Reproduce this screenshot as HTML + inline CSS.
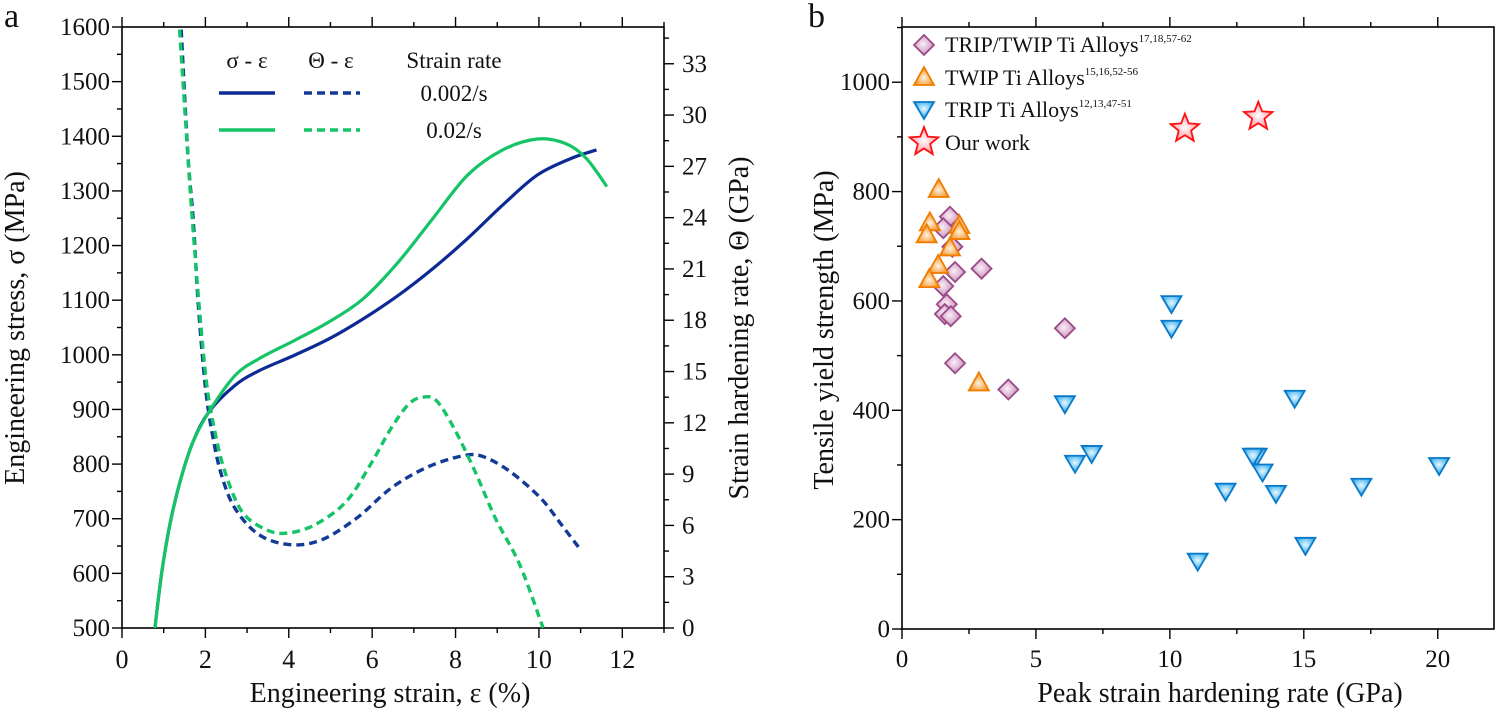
<!DOCTYPE html>
<html><head><meta charset="utf-8">
<style>
html,body{margin:0;padding:0;background:#fff;}
svg, svg text{font-family:"Liberation Serif","Times New Roman","DejaVu Serif",serif;}
</style></head>
<body>
<svg id="fig" width="1497" height="715" viewBox="0 0 1497 715" xmlns="http://www.w3.org/2000/svg" font-family="Liberation Serif, serif">
<defs>
<radialGradient id="gDia" cx="45%" cy="45%" r="60%"><stop offset="0" stop-color="#fbeef8"/><stop offset="1" stop-color="#c58ab8"/></radialGradient>
<radialGradient id="gTri" cx="50%" cy="60%" r="60%"><stop offset="0" stop-color="#fff1df"/><stop offset="1" stop-color="#f58a10"/></radialGradient>
<radialGradient id="gInv" cx="50%" cy="40%" r="60%"><stop offset="0" stop-color="#e6f7ff"/><stop offset="1" stop-color="#15a2ea"/></radialGradient>
<radialGradient id="gStar" cx="50%" cy="50%" r="55%"><stop offset="0" stop-color="#ffffff"/><stop offset="1" stop-color="#ff8a9a"/></radialGradient>
</defs>
</svg>
<script>
// ---------- Panel a data ----------
const blueStrain = [0.79,0.95,1.15,1.4,1.7,2.08,2.71,3.29,4.13,4.96,5.79,6.63,7.46,8.29,9.13,9.96,10.79,11.38];
const blueStress = [500,600,690,770,840,895,944,971,999,1029,1066,1109,1158,1213,1274,1329,1360,1375];
const greenStrain = [0.79,0.95,1.15,1.4,1.7,2.08,2.71,3.29,4.13,4.96,5.79,6.63,7.46,8.29,9.13,9.96,10.63,11.13,11.63];
const greenStress = [500,600,690,770,840,895,962,993,1026,1060,1103,1170,1250,1329,1375,1395,1387,1360,1308];
const blueThetaStrain = [1.42,1.58,1.71,1.83,2.0,2.17,2.38,2.71,3.29,4.04,4.79,5.63,6.46,7.29,8.13,8.63,9.29,10.04,10.54,10.96];
const blueTheta = [35.0,27.7,23.8,18.9,14.1,11.3,9.0,7.0,5.45,4.87,5.16,6.43,8.19,9.37,10.05,10.05,9.18,7.6,6.04,4.7];
const greenThetaStrain = [1.38,1.63,1.75,1.88,2.04,2.21,2.46,2.88,3.46,3.96,4.63,5.38,5.96,6.46,6.88,7.21,7.54,7.96,8.46,8.96,9.54,10.1];
const greenTheta = [35.0,25.8,21.9,18.0,14.1,11.7,9.2,6.8,5.75,5.55,6.04,7.4,9.56,11.7,13.1,13.5,13.3,11.7,9.2,6.4,3.7,0];
const aXTicks = [0,2,4,6,8,10,12];
const aYTicks = [500,600,700,800,900,1000,1100,1200,1300,1400,1500,1600];
const aY2Ticks = [0,3,6,9,12,15,18,21,24,27,30,33];

// ---------- Panel b data ----------
const tripTwipX = [1.79,1.54,1.88,1.98,2.97,1.54,1.67,1.6,1.82,1.98,3.97,6.08];
const tripTwipY = [754,733,699,653,659,627,594,576,572,486,438,550];
const twipX = [1.37,1.04,0.92,2.14,2.14,1.79,1.35,1.02,2.87];
const twipY = [803,742,720,737,726,696,664,638,449];
const tripX = [10.06,10.06,6.08,14.66,6.46,7.08,13.24,13.1,13.46,12.08,13.96,17.15,20.05,15.06,11.04];
const tripY = [596,551,413,423,304,322,317,317,288,253,249,262,300,154,125];
const oursX = [10.56,13.3];
const oursY = [915,937];
const bXTicks = [0,5,10,15,20];
const bYTicks = [0,200,400,600,800,1000];

const NS = "http://www.w3.org/2000/svg";
const FONT = '"Liberation Serif","Times New Roman","DejaVu Serif",serif';
const svg = document.getElementById('fig');
function mk(tag, attrs, parent){
  const e = document.createElementNS(NS, tag);
  for (const k in attrs) e.setAttribute(k, attrs[k]);
  (parent||svg).appendChild(e);
  return e;
}
function txt(s, attrs, parent){ attrs['style']='font-family:'+FONT; const t = mk('text', attrs, parent); t.textContent = s; return t; }

// ---------- Panel a axes ----------
const aL=122, aR=664, aT=27, aB=628;
const ax = v => aL + (v-0)/(13-0)*(aR-aL);
const ay = v => aB - (v-500)/(1600-500)*(aB-aT);
const ay2 = v => aB - (v-0)/(35.15-0)*(aB-aT);

const gA = mk('g', {});


const frameA = mk('rect', {x:aL,y:aT,width:aR-aL,height:aB-aT,fill:'none',stroke:'#000','stroke-width':1.6}, gA);



for (let v=0; v<=13; v+=1){
  const major = v%2===0, len = major?10:5;
  const t1 = mk('line',{x1:ax(v),x2:ax(v),y1:aB,y2:aB+len,stroke:'#000','stroke-width':1.4},gA);
  
  
  const t2 = mk('line',{x1:ax(v),x2:ax(v),y1:aT,y2:aT-len,stroke:'#000','stroke-width':1.4},gA);
  
  
}
aXTicks.forEach(v=>{
  const l = txt(String(v),{x:ax(v),y:aB+40,'font-size':26,'text-anchor':'middle',fill:'#111'},gA);
  
  
});
for (let v=500; v<=1600; v+=50){
  const major = v%100===0, len = major?10:5;
  const t = mk('line',{x1:aL,x2:aL-len,y1:ay(v),y2:ay(v),stroke:'#000','stroke-width':1.4},gA);
  
  
}
aYTicks.forEach(v=>{
  const l = txt(String(v),{x:aL-12,y:ay(v)+8,'font-size':25,'text-anchor':'end',fill:'#111'},gA);
  
  
});
for (let v=0; v<=34.5; v+=1.5){
  const major = Math.abs(v%3)<0.01, len = major?10:5;
  const t = mk('line',{x1:aR,x2:aR+len,y1:ay2(v),y2:ay2(v),stroke:'#000','stroke-width':1.4},gA);
  
  
}
aY2Ticks.forEach(v=>{
  const l = txt(String(v),{x:aR+18,y:ay2(v)+8,'font-size':25,'text-anchor':'start',fill:'#111'},gA);
  
  
});
const xtA = txt('Engineering strain, ε (%)',{x:390,y:702,'font-size':28,'text-anchor':'middle',fill:'#111'},gA);


const ytA = txt('Engineering stress, σ (MPa)',{x:0,y:0,'font-size':28,'text-anchor':'middle',fill:'#111',transform:'translate(24,328) rotate(-90)'},gA);


const y2tA = txt('Strain hardening rate, Θ (GPa)',{x:0,y:0,'font-size':28,'text-anchor':'middle',fill:'#111',transform:'translate(748,328) rotate(-90)'},gA);


const labA = txt('a',{x:4,y:27,'font-size':34,fill:'#111'},gA);



function smooth(xs, ys, fx, fy){
  const p = xs.map((x,i)=>[fx(x), fy(ys[i])]);
  let d = `M${p[0][0]},${p[0][1]}`;
  for (let i=0;i<p.length-1;i++){
    const p0=p[i-1]||p[i], p1=p[i], p2=p[i+1], p3=p[i+2]||p2;
    const c1=[p1[0]+(p2[0]-p0[0])/6, p1[1]+(p2[1]-p0[1])/6];
    const c2=[p2[0]-(p3[0]-p1[0])/6, p2[1]-(p3[1]-p1[1])/6];
    d += ` C${c1[0]},${c1[1]} ${c2[0]},${c2[1]} ${p2[0]},${p2[1]}`;
  }
  return d;
}
const BLUE='#0d2a94', GREEN='#14c466', DBLUE='#123a96';
const clipA = mk('clipPath',{id:'clipA'}); mk('rect',{x:aL,y:aT,width:aR-aL,height:aB-aT},clipA);
const blueThetaPath = mk('path',{d:smooth(blueThetaStrain,blueTheta,ax,ay2),fill:'none',stroke:DBLUE,'stroke-width':3.4,'stroke-dasharray':'8 5','clip-path':'url(#clipA)'},gA);


const greenThetaPath = mk('path',{d:smooth(greenThetaStrain,greenTheta,ax,ay2),fill:'none',stroke:GREEN,'stroke-width':3.4,'stroke-dasharray':'8 5','clip-path':'url(#clipA)'},gA);


const bS = mk('path',{d:smooth(blueStrain,blueStress,ax,ay),fill:'none',stroke:BLUE,'stroke-width':3.2,'clip-path':'url(#clipA)'},gA);


const gS = mk('path',{d:smooth(greenStrain,greenStress,ax,ay),fill:'none',stroke:GREEN,'stroke-width':3.2,'clip-path':'url(#clipA)'},gA);



const lgA = mk('g',{},gA);


const h1 = txt('σ - ε',{x:247,y:68,'font-size':23,'text-anchor':'middle',fill:'#111'},lgA);


const h2 = txt('Θ - ε',{x:331,y:68,'font-size':23,'text-anchor':'middle',fill:'#111'},lgA);


const h3 = txt('Strain rate',{x:454,y:68,'font-size':23,'text-anchor':'middle',fill:'#111'},lgA);


const ls1 = mk('line',{x1:219,x2:275,y1:93,y2:93,stroke:BLUE,'stroke-width':3.4},lgA);


const ld1 = mk('line',{x1:304,x2:360,y1:93,y2:93,stroke:DBLUE,'stroke-width':3.4,'stroke-dasharray':'8 5'},lgA);


const lt1 = txt('0.002/s',{x:454,y:101,'font-size':23,'text-anchor':'middle',fill:'#111'},lgA);


const ls2 = mk('line',{x1:219,x2:275,y1:130,y2:130,stroke:GREEN,'stroke-width':3.4},lgA);


const ld2 = mk('line',{x1:304,x2:360,y1:130,y2:130,stroke:GREEN,'stroke-width':3.4,'stroke-dasharray':'8 5'},lgA);


const lt2 = txt('0.02/s',{x:454,y:138,'font-size':23,'text-anchor':'middle',fill:'#111'},lgA);



// ---------- Panel b ----------
const bL=902, bR=1494, bT=27, bB=629;
const bx = v => bL + v/22.1*(bR-bL);
const by = v => bB - v/1101*(bB-bT);
const gB = mk('g',{});


const frameB = mk('rect',{x:bL,y:bT,width:bR-bL,height:bB-bT,fill:'none',stroke:'#000','stroke-width':1.6},gB);


for (let v=0; v<=22; v+=2.5){
  const major = v%5===0, len = major?10:5;
  const t1 = mk('line',{x1:bx(v),x2:bx(v),y1:bB,y2:bB+len,stroke:'#000','stroke-width':1.4},gB);
  
  
  const t2 = mk('line',{x1:bx(v),x2:bx(v),y1:bT,y2:bT-len,stroke:'#000','stroke-width':1.4},gB);
  
  
}
bXTicks.forEach(v=>{
  const l = txt(String(v),{x:bx(v),y:bB+38,'font-size':25,'text-anchor':'middle',fill:'#111'},gB);
  
  
});
for (let v=0; v<=1100; v+=100){
  const major = v%200===0, len = major?10:5;
  const t = mk('line',{x1:bL,x2:bL-len,y1:by(v),y2:by(v),stroke:'#000','stroke-width':1.4},gB);
  
  
}
bYTicks.forEach(v=>{
  const l = txt(String(v),{x:bL-12,y:by(v)+8,'font-size':25,'text-anchor':'end',fill:'#111'},gB);
  
  
});
const xtB = txt('Peak strain hardening rate (GPa)',{x:1220,y:702,'font-size':28,'text-anchor':'middle',fill:'#111'},gB);


const ytB = txt('Tensile yield strength (MPa)',{x:0,y:0,'font-size':28,'text-anchor':'middle',fill:'#111',transform:'translate(833,330) rotate(-90)'},gB);


const labB = txt('b',{x:808,y:27,'font-size':34,fill:'#111'},gB);



function diamond(cx,cy,p){ return mk('path',{d:`M${cx},${cy-10} L${cx+10},${cy} L${cx},${cy+10} L${cx-10},${cy} Z`,fill:'url(#gDia)',stroke:'#9c4a87','stroke-width':1.8},p); }
function tri(cx,cy,p){ return mk('path',{d:`M${cx},${cy-11} L${cx+10},${cy+7} L${cx-10},${cy+7} Z`,fill:'url(#gTri)',stroke:'#f07c00','stroke-width':1.8},p); }
function inv(cx,cy,p){ return mk('path',{d:`M${cx-10},${cy-7} L${cx+10},${cy-7} L${cx},${cy+10} Z`,fill:'url(#gInv)',stroke:'#0a78c8','stroke-width':1.8},p); }
function star(cx,cy,p){
  let d='';
  for (let i=0;i<10;i++){ const r=i%2?6.5:15; const a=-Math.PI/2+i*Math.PI/5; d+=(i?'L':'M')+(cx+r*Math.cos(a)).toFixed(1)+','+(cy+r*Math.sin(a)).toFixed(1); }
  return mk('path',{d:d+'Z',fill:'url(#gStar)',stroke:'#ff1010','stroke-width':1.8},p);
}
tripX.forEach((x,i)=>{
  const m = inv(bx(x),by(tripY[i]),gB);
  
  
});
tripTwipX.forEach((x,i)=>{
  const m = diamond(bx(x),by(tripTwipY[i]),gB);
  
  
});
twipX.forEach((x,i)=>{
  const m = tri(bx(x),by(twipY[i]),gB);
  
  
});
oursX.forEach((x,i)=>{
  const m = star(bx(x),by(oursY[i]),gB);
  
  
});

const lgB = mk('g',{},gB);


const lm1 = diamond(924,45,lgB);


const lm2 = tri(924,78,lgB);


const lm3 = inv(924,109,lgB);


const lm4 = star(924,142,lgB);


const legTexts = [['TRIP/TWIP Ti Alloys','17,18,57-62',52],['TWIP Ti Alloys','15,16,52-56',85],['TRIP Ti Alloys','12,13,47-51',117],['Our work','',150]];
legTexts.forEach(r=>{
  const t = mk('text',{x:945,y:r[2],'font-size':22,fill:'#111',style:'font-family:'+FONT},lgB);
  
  
  const s1 = mk('tspan',{},t); s1.textContent = r[0];
  if (r[1]){ const s2 = mk('tspan',{'font-size':11,dy:-10},t); s2.textContent = r[1]; }
});
</script>
</body></html>
